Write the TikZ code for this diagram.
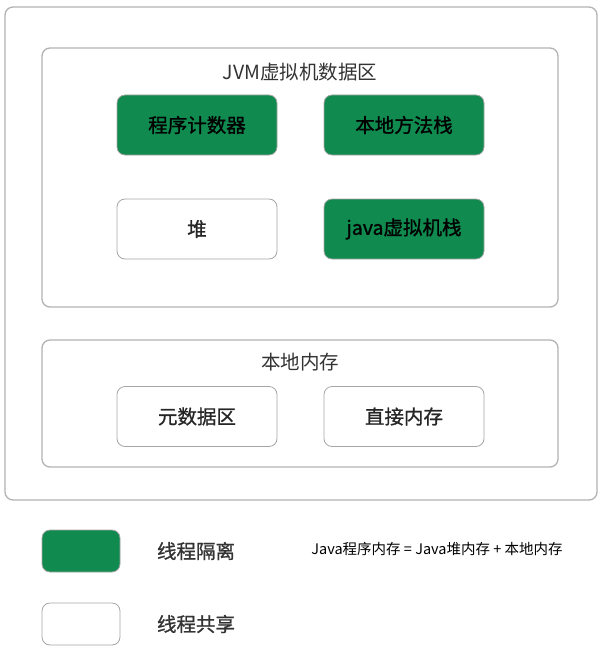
\documentclass[tikz,border=0pt]{standalone}
\usepackage{fontspec}
\setmainfont{Noto Sans CJK SC}
\newfontfamily\boxfont[FakeBold=1]{Noto Sans CJK SC}
\definecolor{jvmgreen}{RGB}{16,138,78}
\begin{document}
\begin{tikzpicture}[x=1pt, y=-1pt,
    area/.style={draw=black!30, rounded corners=8pt, line width=1.3pt},
    isolated/.style={draw=black!35, fill=jvmgreen, rounded corners=8pt, line width=.8pt,
      minimum width=160pt, minimum height=60pt, font=\boxfont\fontsize{19.5}{21}\selectfont},
    shared/.style={isolated, fill=white, text=black!85},
    title/.style={font=\fontsize{19.5}{21}\selectfont, text=black!80}]
    \useasboundingbox (0,0) rectangle (600,650);

    \node[area, minimum width=592pt, minimum height=493pt] (outer) at (301,253.5) {};
    \node[area, minimum width=516pt, minimum height=259pt] (jvm) at (300,177.5) {};
    \node[area, minimum width=516pt, minimum height=127pt] (native) at (300,403.5) {};
    \node[title] (jvmtitle) at (300,72) {JVM虚拟机数据区};
    \node[title] (nativetitle) at (300,362) {本地内存};

    \node[isolated] (pc) at (197,125) {程序计数器};
    \node[isolated] (nms) at (404,125) {本地方法栈};
    \node[shared] (heap) at (197,229) {堆};
    \node[isolated] (jvms) at (404,229) {java虚拟机栈};
    \node[shared] (meta) at (197,416.5) {元数据区};
    \node[shared] (direct) at (404,416.5) {直接内存};

    \node[isolated, minimum width=78pt, minimum height=42pt] (legiso) at (81,551) {};
    \node[shared, minimum width=78pt, minimum height=42pt] (legshr) at (81,624) {};
    \node[title, font=\boxfont\fontsize{19.5}{21}\selectfont] (isotext) at (196,551) {线程隔离};
    \node[title, font=\boxfont\fontsize{19.5}{21}\selectfont] (shrtext) at (196,624) {线程共享};
    \node[font=\fontsize{14.5}{16}\selectfont] (formula) at (437,549) {Java程序内存 = Java堆内存 + 本地内存};
  \end{tikzpicture}
\end{document}
